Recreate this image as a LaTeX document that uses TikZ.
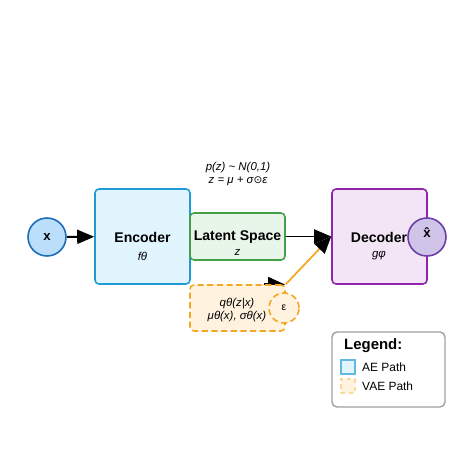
\documentclass[tikz,border=0pt]{standalone}
\usepackage{fontspec}
\setmainfont{Liberation Sans}
\newfontfamily\dvs{DejaVu Sans}
\usetikzlibrary{arrows.meta}
\definecolor{encfill}{HTML}{E1F5FE}
\definecolor{encdraw}{HTML}{1E9BD7}
\definecolor{latfill}{HTML}{E8F5E9}
\definecolor{latdraw}{HTML}{43A047}
\definecolor{decfill}{HTML}{F3E5F5}
\definecolor{decdraw}{HTML}{8E24AA}
\definecolor{xfill}{HTML}{BBDEFB}
\definecolor{xdraw}{HTML}{1E6BB8}
\definecolor{xhfill}{HTML}{D1C4E9}
\definecolor{xhdraw}{HTML}{6A3DA8}
\definecolor{vaefill}{HTML}{FFF3E0}
\definecolor{vaedraw}{HTML}{F5A623}
\definecolor{leggray}{HTML}{A0A0A0}
\tikzset{
  px/.style={x=0.02cm,y=-0.02cm},
  blockbox/.style={rectangle,rounded corners=0.08cm,line width=0.9pt,inner sep=0pt},
  circ/.style={circle,line width=0.9pt,inner sep=0pt,minimum size=0.76cm},
  arr/.style={line width=1.1pt,-{Triangle[length=0.34cm,width=0.28cm]}},
  ttl/.style={font=\fontsize{8}{9}\selectfont\bfseries},
  sub/.style={font=\fontsize{6.5}{7.5}\selectfont\itshape},
  legtxt/.style={font=\fontsize{6.8}{7.8}\selectfont},
  vaedash/.style={dashed,dash pattern=on 3.5pt off 2pt},
}
\begin{document}
\begin{tikzpicture}[px]
\useasboundingbox (0,0) rectangle (474,474);
% small arrow under VAE box
\coordinate (s) at (264,284);
% nodes
\node[blockbox,fill=encfill,draw=encdraw,minimum width=1.9cm,minimum height=1.9cm] (enc) at (142.5,236.5) {};
\node[blockbox,fill=latfill,draw=latdraw,minimum width=1.9cm,minimum height=0.94cm] (lat) at (237.5,236.5) {};
\node[blockbox,fill=decfill,draw=decdraw,minimum width=1.9cm,minimum height=1.9cm] (dec) at (379.5,236.5) {};
\draw[arr] (s) -- (285,284.5);
\node[blockbox,fill=vaefill,draw=vaedraw,vaedash,minimum width=1.9cm,minimum height=0.92cm] (vae) at (237.5,308) {};
\node[circle,fill=vaefill,draw=vaedraw,line width=0.9pt,vaedash,minimum size=0.6cm,inner sep=0pt] (eps) at (284,308) {\fontsize{6}{7}\selectfont ε};
\node[circ,fill=xfill,draw=xdraw] (x) at (47,237) {\fontsize{7.5}{8}\selectfont\bfseries x};
\node[circ,fill=xhfill,draw=xhdraw] (xh) at (427,237) {};
% texts
\node[ttl] (enct) at (142.5,237.5) {Encoder};
\node[sub] (encs) at (142.5,256) {fθ};
\node[ttl] (latt) at (237.5,237.5) {Latent Space};
\node[sub] (lats) at (237.5,252) {z};
\node[ttl] (dect) at (379,237.5) {Decoder};
\node[sub] (decs) at (379,256) {gφ};
\node (xht) at (427,233) {\fontsize{7.5}{8}\selectfont\bfseries\^{x}};
\node[sub,align=center] (vaet) at (237,310) {qθ(z|x)\\μθ(x), σθ(x)};
\node[sub,align=center] (prior) at (238,174) {p(z) \textasciitilde\ N(0,1)\\z = μ + σ{\dvs\fontsize{6}{7}\selectfont ⊙}ε};
% connectors
\draw[arr] (x) -- (enc);
\draw[arr] (lat) -- (dec.west);
\draw[line width=1pt,vaedraw,-{Triangle[length=0.34cm,width=0.28cm,color=black]}] (vae.north east) -- (dec.west);
% legend
\node[rectangle,rounded corners=0.1cm,draw=leggray,fill=white,line width=0.8pt,minimum width=2.26cm,minimum height=1.5cm,inner sep=0pt] (leg) at (388.5,369.5) {};
\node[font=\fontsize{8.5}{9}\selectfont\bfseries,anchor=west] (legt) at (338,346) {Legend:};
\node[rectangle,fill=encfill,draw=encdraw!70,line width=0.8pt,minimum size=0.28cm,inner sep=0pt] (lae) at (348,367) {};
\node[legtxt,anchor=west] (laet) at (356,367.5) {AE Path};
\node[rectangle,fill=vaefill,draw=vaedraw!45,dashed,dash pattern=on 2.5pt off 2pt,line width=0.8pt,minimum size=0.28cm,inner sep=0pt] (lvae) at (348,386) {};
\node[legtxt,anchor=west] (lvaet) at (356,386.5) {VAE Path};
\end{tikzpicture}
\end{document}
